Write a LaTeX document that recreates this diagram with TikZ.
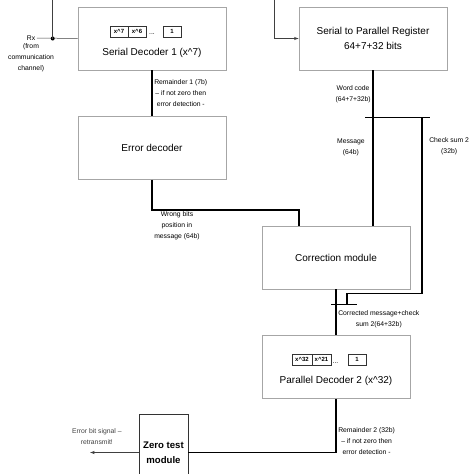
\documentclass[tikz,border=0pt]{standalone}
\usepackage{fontspec}
\setmainfont{Liberation Sans}
\usepackage{xcolor}
\usepackage{tikz}

\begin{document}
\begin{tikzpicture}[x=1pt, y=-1pt, node distance=109.5pt, font=\fontsize{10}{15}\selectfont]
        % Define styles
        \tikzstyle{mybox} = [rectangle, draw=gray!70, line width=0.6pt, minimum width=148pt, minimum height=63pt, align=center, inner sep=2pt]
        \tikzstyle{cell} = [rectangle, draw=black!80, line width=0.5pt, minimum width=18pt, minimum height=11pt, inner sep=0pt, font=\fontsize{6}{7}\selectfont\bfseries]
        \tikzstyle{note} = [align=center, inner sep=1.5pt, font=\fontsize{6.8}{11}\selectfont]
        \tikzstyle{busline} = [line width=1.6pt]
        \tikzstyle{wire} = [line width=0.5pt, black!75]
        \tikzstyle{sigarrow} = [->, >=latex, line width=0.5pt, black!75]

        \useasboundingbox (0,0) rectangle (474,474);

        % Nodes
        \node (sd1) [mybox, text height=34pt, text depth=0pt] at (152,38.5) {Serial Decoder 1 (x\textasciicircum 7)};
        \node (c7) [cell] at ([xshift=-33pt, yshift=7pt]sd1.center) {x\textasciicircum 7};
        \node (c6) [cell, node distance=18pt, right of=c7] {x\textasciicircum 6};
        \node (cdots) [note, node distance=15pt, right of=c6, yshift=-2.5pt] {...};
        \node (c1) [cell, node distance=35pt, right of=c6] {1};

        \node (spr) [mybox, node distance=221pt, right of=sd1] {Serial to Parallel Register\\64+7+32 bits};

        \node (ed) [mybox, below of=sd1] {Error decoder};

        \node (cm) [mybox, below of=ed, xshift=184pt] {Correction module};

        \node (pd2) [mybox, below of=cm, text height=33pt, text depth=0pt] {Parallel Decoder 2 (x\textasciicircum 32)};
        \node (p32) [cell, minimum width=20pt] at ([xshift=-34pt, yshift=7.5pt]pd2.center) {x\textasciicircum 32};
        \node (p21) [cell, minimum width=19pt, node distance=19.5pt, right of=p32] {x\textasciicircum 21};
        \node (pdots) [note, node distance=14pt, right of=p21, yshift=-3.5pt] {...};
        \node (p1) [cell, node distance=35.5pt, right of=p21] {1};

        \node (zt) [mybox, draw=black!80, minimum width=49pt, minimum height=77pt, inner sep=1pt, font=\fontsize{9.6}{15}\selectfont\bfseries, below of=pd2, xshift=-172.5pt, yshift=24pt] {Zero test\\module};

        \node (rx) [note] at (31,38) {Rx};
        \node (rxsrc) [note, anchor=north] at (rx.south) {(from\\communication\\channel)};

        \coordinate (tap) at ([xshift=-25pt]sd1.west);
        \coordinate (rxtop) at (tap |- 0,0);
        \coordinate (feedtop) at (274,0);
        \coordinate (split) at ([yshift=-47pt]spr.south);
        \coordinate (csum) at ([xshift=49pt]split);
        \coordinate (merge) at ([yshift=-15pt]cm.south);
        \coordinate (errout) at (90,452.5);

        % Connections
        \draw [wire] (rx.east) -- (sd1.west);
        \fill (tap) circle (2pt);
        \draw [wire] (tap) -- (rxtop);
        \draw [sigarrow] (feedtop) |- (spr.west);

        \draw [busline] (sd1.south) -- node[note, right, midway] {Remainder 1 (7b)\\-- if not zero then\\error detection -} (ed.north);

        \draw [busline] (ed.south) |- node[note, pos=0.5, below right] {Wrong bits\\position in\\message (64b)} ([xshift=-37pt, yshift=16pt]cm.north) -- ([xshift=-37pt]cm.north);

        \draw [busline] (spr.south) -- node[note, left, midway] {Word code\\(64+7+32b)} (split);
        \draw [busline] ([xshift=-8pt]split) -- ([xshift=57pt]split);
        \draw [busline] (split) -- node[note, left, pos=0.28, xshift=-6pt] {Message\\(64b)} (split |- cm.north);
        \draw [busline] (csum) |- node[note, right, pos=0.082, xshift=5pt] {Check sum 2\\(32b)} ([xshift=11pt, yshift=-4pt]cm.south) -- ([xshift=11pt]merge);

        \draw [busline] ([xshift=-5pt]merge) -- ([xshift=21pt]merge);
        \draw [busline] (cm.south) -- node[note, right, pos=0.65] {Corrected message+check\\sum 2(64+32b)} (pd2.north);

        \draw [busline] (pd2.south) |- node[note, right, pos=0.39] {Remainder 2 (32b)\\-- if not zero then\\error detection -} (zt.east);

        % Explanations
        \draw [sigarrow] (zt.west) -- node[note, above, pos=0.86, yshift=6pt] {Error bit signal --\\retransmit!} (errout);

    \end{tikzpicture}
\end{document}
